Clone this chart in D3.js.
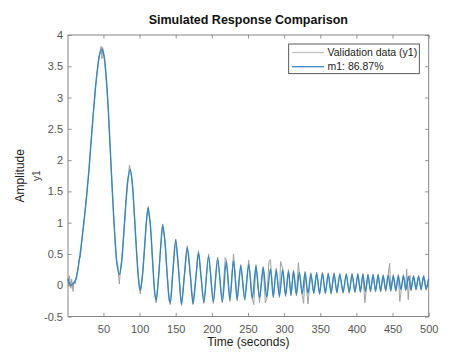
<!DOCTYPE html>
<html><head><meta charset="utf-8">
<script src="https://cdn.jsdelivr.net/npm/d3@7"></script>
<style>body{margin:0;background:#fff}svg{display:block}text{font-family:"Liberation Sans",Arial,sans-serif}</style>
</head><body><svg id="c" width="474" height="355"></svg>
<script>
// ---- data ----
const xTicks = [50,100,150,200,250,300,350,400,450,500];
const yTicks = [-0.5,0,0.5,1,1.5,2,2.5,3,3.5,4];
const legendLabels = ["Validation data (y1)", "m1: 86.87%"];

const modelTime = [1,3,6,9,12,15,18,21,24,27,30,33,36,39,42,45,48,51,54,57,60,63,66,69,72,75,78,81,84,87,90,93,96,99,101,104,107,110,112,115,118,121,123,126,129,132,135,138,141,142.5,146,150,154,158,162,166,170,174,178,181.5,185,189,195.5,202,208,214.5,220,225,230,235,240,245.5,251,256,261,266,271,276,281,285,289,293.5,298,302,306,309.5,313,317,321,325,329,333,337,341,345,349,353,357,361,365,369,373,377,381.5,386,390,394,398,402,405.5,409,412.5,416,419.5,423,426.5,430,433.5,437,440.5,444,447.5,451,454.5,458,461.5,465,468.5,472,475.5,479,482.5,486,489.5,493,496.5,500];
const modelAmp = [0.10,0.03,0.00,0.04,0.10,0.28,0.52,0.80,1.12,1.45,1.85,2.30,2.75,3.15,3.48,3.70,3.77,3.65,3.30,2.75,2.05,1.35,0.75,0.32,0.17,0.35,0.80,1.30,1.70,1.85,1.62,1.10,0.50,0.05,-0.08,0.15,0.62,1.08,1.23,0.95,0.40,-0.12,-0.24,0.08,0.58,0.96,0.72,0.20,-0.22,-0.28,0.20,0.72,0.25,-0.30,0.15,0.60,0.20,-0.29,0.13,0.52,0.15,-0.27,0.46,-0.26,0.42,-0.26,0.38,-0.23,0.39,-0.22,0.31,-0.22,0.33,-0.21,0.30,-0.20,0.28,-0.19,0.26,-0.18,0.24,-0.17,0.25,-0.16,0.22,-0.15,0.22,-0.15,0.21,-0.14,0.20,-0.13,0.18,-0.12,0.19,-0.13,0.19,-0.12,0.18,-0.12,0.18,-0.11,0.17,-0.11,0.17,-0.11,0.17,-0.10,0.17,-0.10,0.17,-0.10,0.16,-0.09,0.16,-0.09,0.16,-0.09,0.15,-0.08,0.16,-0.08,0.15,-0.08,0.15,-0.07,0.15,-0.07,0.14,-0.07,0.14,-0.06,0.14,-0.06,0.14,-0.06,0.10];

const valTime = [1,2,3,5,6,8,9,11,13,15,16,18,21,24,27,30,33,36,39,42,45,47,48,49,51,54,57,60,63,66,68,70,72,74,75,78,81,84,86,88,90,93,96,99,101,104,107,110,112,113,115,118,121,123,126,129,132,135,138,141,142.5,146,150,154,158,162,166,170,174,178,181.5,185,189,195.5,202,208,214.5,218.5,220,225,230,235,240,245.5,251,256,258,261,266,271,274,276,279,281,285,289,293.5,295,298,302,306,309.5,313,317,319.7,321,325,327,329,333,337,341,345,349,353,357,361,365,369,373,377,381.5,386,390,394,398,402,405.5,409,411.7,416,419.5,423,426.5,430,433.5,437,440.5,444,446,447.5,451,454.5,458,460,465,468,469.5,471.7,474,475.5,479,482.5,486,489.5,493,496.5,500];
const valAmp = [0.12,-0.02,0.15,-0.05,0.10,-0.10,0.05,0.02,0.18,0.25,0.40,0.45,0.82,1.10,1.48,1.83,2.32,2.73,3.17,3.46,3.72,3.82,3.62,3.80,3.68,3.28,2.78,2.02,1.38,0.72,0.40,0.30,0.02,0.30,0.38,0.78,1.33,1.68,1.92,1.80,1.65,1.08,0.52,0.02,-0.14,0.18,0.60,1.10,1.26,1.12,0.98,0.38,-0.14,-0.28,0.10,0.56,0.98,0.70,0.22,-0.24,-0.31,0.22,0.74,0.23,-0.33,0.17,0.63,0.18,-0.31,0.15,0.55,0.13,-0.29,0.50,-0.29,0.45,-0.28,0.44,0.40,-0.26,0.50,-0.25,0.33,-0.24,0.40,-0.23,-0.31,0.33,-0.28,0.30,-0.28,-0.21,0.38,0.41,-0.20,0.27,-0.20,0.38,0.27,-0.18,0.25,-0.17,0.24,-0.17,0.36,0.22,-0.16,-0.29,0.22,-0.30,0.20,-0.14,0.21,-0.15,0.21,-0.14,0.20,-0.14,0.20,-0.13,0.19,-0.13,0.19,-0.13,0.19,-0.12,0.19,-0.12,0.19,-0.28,0.18,-0.11,0.18,-0.11,0.18,-0.11,0.17,-0.10,0.18,0.35,-0.10,0.17,-0.10,0.17,-0.26,0.17,-0.09,0.26,-0.23,0.16,-0.09,0.16,-0.08,0.16,-0.08,0.16,-0.08,0.12];

// ---- layout ----
const svg = d3.select("#c");
const L = 68, R = 428.7, T = 35, B = 316.5;
const x = d3.scaleLinear().domain([1,500]).range([L,R]);
const y = d3.scaleLinear().domain([-0.5,4]).range([B,T]);
const axisCol = "#7a7a7a", labCol = "#555", tl = 3.6;

const g = svg.append("g");
g.append("rect").attr("x",L).attr("y",T).attr("width",R-L).attr("height",B-T).attr("fill","#fff");

// data lines
const mk = (ts, vs) => ts.map((t,i)=>[t, vs[i]]);
const valLine = d3.line().x(d=>x(d[0])).y(d=>y(d[1]));
const modLine = d3.line().x(d=>x(d[0])).y(d=>y(d[1])).curve(d3.curveCatmullRom.alpha(0.5));
g.append("path").attr("d", valLine(mk(valTime,valAmp))).attr("fill","none").attr("stroke","#a0a0a0").attr("stroke-width",1);
g.append("path").attr("d", modLine(mk(modelTime,modelAmp))).attr("fill","none").attr("stroke","#3487c3").attr("stroke-width",1.4);

// axes
const fmt = d => String(d);
const ax = [
  [d3.axisBottom(x).tickValues(xTicks).tickSize(-tl).tickFormat(fmt), B, true, "x"],
  [d3.axisTop(x).tickValues(xTicks).tickSize(-tl).tickFormat(""), T, false, "x"],
  [d3.axisLeft(y).tickValues(yTicks).tickSize(-tl).tickFormat(fmt), L, true, "y"],
  [d3.axisRight(y).tickValues(yTicks).tickSize(-tl).tickFormat(""), R, false, "y"]
];
ax.forEach(([a, pos, lab, dir]) => {
  const ag = svg.append("g").attr("transform", dir==="x" ? `translate(0,${pos})` : `translate(${pos},0)`).call(a.tickPadding(dir==="x"?9:5));
  ag.select(".domain").remove();
  ag.selectAll(".tick line").attr("stroke",axisCol).attr("stroke-width",0.8);
  ag.selectAll(".tick text").attr("fill",labCol).style("font-size","11px");
});
svg.append("rect").attr("x",L).attr("y",T).attr("width",R-L).attr("height",B-T)
  .attr("fill","none").attr("stroke",axisCol).attr("stroke-width",0.9);

// titles
svg.append("text").attr("x",(L+R)/2).attr("y",23.5).attr("text-anchor","middle")
  .style("font-size","12.5px").style("font-weight","bold").attr("fill","#111").text("Simulated Response Comparison");
svg.append("text").attr("x",(L+R)/2).attr("y",346).attr("text-anchor","middle")
  .style("font-size","12px").attr("fill","#222").text("Time (seconds)");
svg.append("text").attr("transform",`translate(24,${(T+B)/2}) rotate(-90)`).attr("text-anchor","middle")
  .style("font-size","12px").attr("fill","#222").text("Amplitude");
svg.append("text").attr("transform",`translate(40,${(T+B)/2}) rotate(-90)`).attr("text-anchor","middle")
  .style("font-size","10px").attr("fill","#444").text("y1");

// legend
const lg = svg.append("g");
lg.append("rect").attr("x",288.7).attr("y",44).attr("width",130.6).attr("height",29.7)
  .attr("fill","#fff").attr("stroke","#333").attr("stroke-width",0.8);
const legCols = ["#c4c4c4","#3a8cc4"];
legendLabels.forEach((t,i)=>{
  const yy = 52.5 + i*14.2;
  lg.append("line").attr("x1",292).attr("x2",324).attr("y1",yy).attr("y2",yy).attr("stroke",legCols[i]).attr("stroke-width",1.3);
  lg.append("text").attr("x",327.5).attr("y",yy+3.7).style("font-size","10.5px").attr("fill","#222").text(t);
});
</script></body></html>
